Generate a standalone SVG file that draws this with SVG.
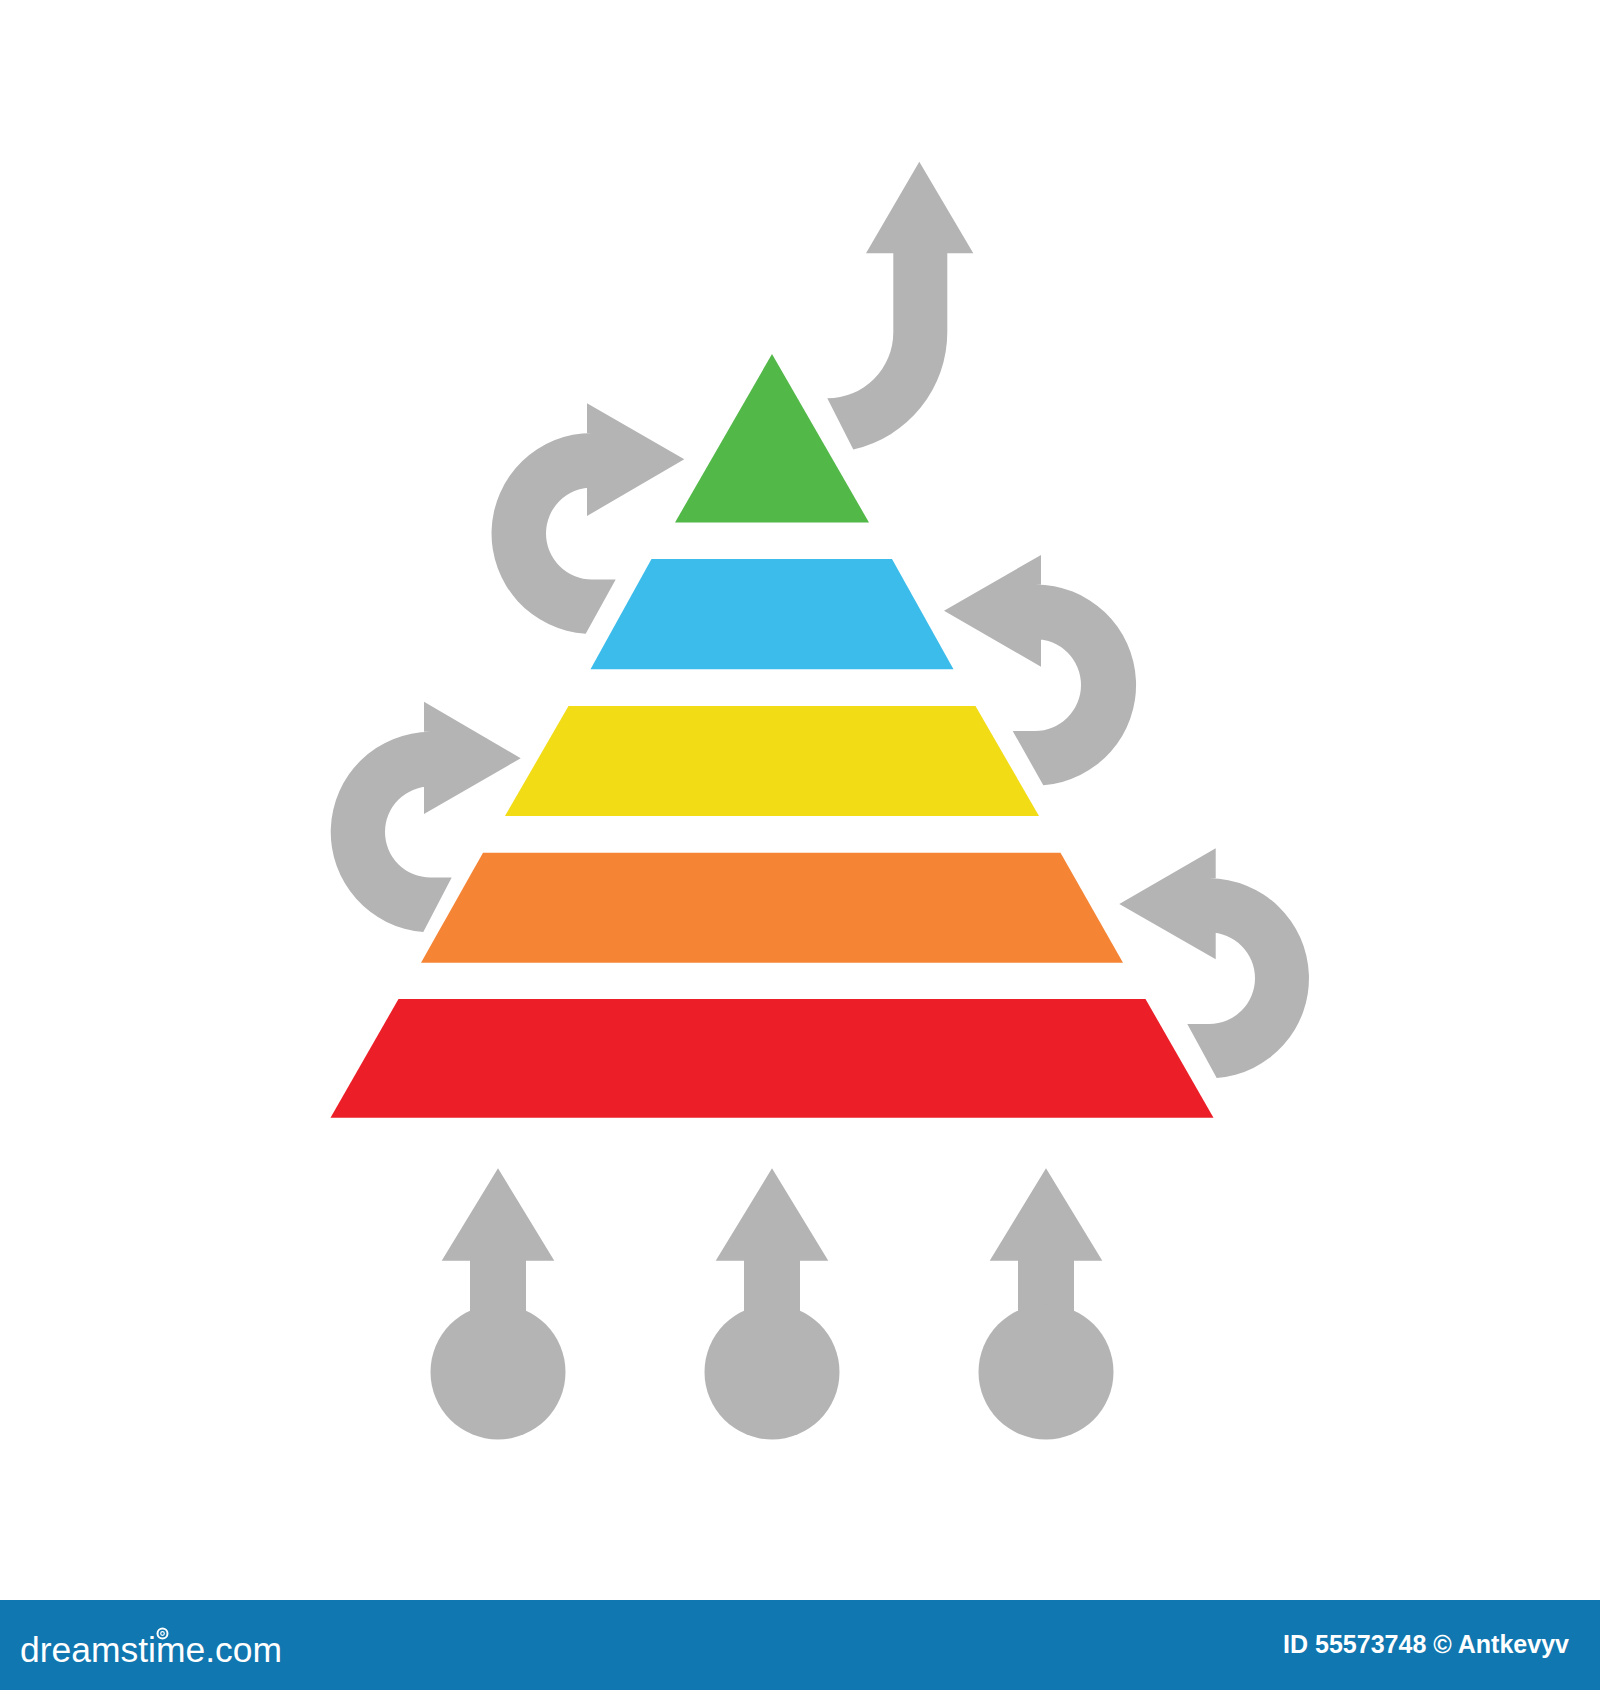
<svg xmlns="http://www.w3.org/2000/svg" width="1600" height="1690" viewBox="0 0 1600 1690">
  <style>
    .arrow { fill: #b4b4b4; }
    .banner-text { fill: #ffffff; font-family: "Liberation Sans", Arial, sans-serif; }
  </style>
  <rect x="0" y="0" width="1600" height="1690" fill="#ffffff"/>

  <!-- Pyramid layers -->
  <g id="layer-green"><polygon points="772,354 869,522.5 675,522.5" fill="#52b848"/></g>
  <g id="layer-blue"><polygon points="651.5,559 892,559 953.5,669.3 590.5,669.3" fill="#3bbceb"/></g>
  <g id="layer-yellow"><polygon points="568.5,706 975.5,706 1039,816 505,816" fill="#f1dc16"/></g>
  <g id="layer-orange"><polygon points="483,852.7 1060.5,852.7 1123,962.7 421,962.7" fill="#f58434"/></g>
  <g id="layer-red"><polygon points="398.5,999 1145.5,999 1213.5,1117.7 330.5,1117.7" fill="#ec1f28"/></g>

  <!-- Arrows -->
  <g id="connectors">
    <path id="arrow-top" class="arrow" d="M866,253.3 L919.3,161.7 L973.3,253.3 L947.3,253.3 L947.3,332.3 A120,120 0 0 1 853.3,449.4 L827.3,398.3 A66,66 0 0 0 893.3,332.3 L893.3,253.3 Z"/>
    <path id="arrow-left-upper" class="arrow" d="M587,403.3 L684.3,459.3 L587,516 L587,487.5 L592,487.5 A46,46 0 0 0 592,579.5 L615.7,579.5 L585.7,633.8 A100.5,100.5 0 0 1 592,433 L587,433 Z"/>
    <path id="arrow-right-upper" class="arrow" d="M1041,555 L944,610.7 L1041,666.7 L1041,639 L1035,639 A46,46 0 0 1 1035,731 L1012.7,731 L1043.3,785.2 A100.5,100.5 0 0 0 1035,584.5 L1041,584.5 Z"/>
    <path id="arrow-left-lower" class="arrow" d="M424,701.7 L520.7,758.3 L424,814 L424,786.5 L430.5,786.5 A45.5,45.5 0 0 0 430.5,877.5 L451.7,877.5 L423.3,932 A100.3,100.3 0 0 1 430.5,731.7 L424,731.7 Z"/>
    <path id="arrow-right-lower" class="arrow" d="M1215.7,848.3 L1119.3,904 L1215.7,959.3 L1215.7,932.6 L1209.3,932.6 A45.7,45.7 0 0 1 1209.3,1024 L1187.3,1024 L1216.7,1078 A100,100 0 0 0 1209.3,878.3 L1215.7,878.3 Z"/>
  </g>

  <!-- Bottom input arrows -->
  <g id="input-1" class="arrow">
    <polygon points="498,1168.3 554.3,1260.7 526,1260.7 526,1330 470,1330 470,1260.7 441.7,1260.7"/>
    <circle cx="498" cy="1372" r="67.5"/>
  </g>
  <g id="input-2" class="arrow">
    <polygon points="772,1168.3 828.3,1260.7 800,1260.7 800,1330 744,1330 744,1260.7 715.7,1260.7"/>
    <circle cx="772" cy="1372" r="67.5"/>
  </g>
  <g id="input-3" class="arrow">
    <polygon points="1046,1168.3 1102.3,1260.7 1074,1260.7 1074,1330 1018,1330 1018,1260.7 989.7,1260.7"/>
    <circle cx="1046" cy="1372" r="67.5"/>
  </g>

  <!-- Banner -->
  <g id="banner">
    <rect x="0" y="1600" width="1600" height="90" fill="#1077b0"/>
    <text class="banner-text" x="20" y="1662" font-size="35" textLength="262" lengthAdjust="spacingAndGlyphs">dreamstime.com</text>
    <circle cx="162.5" cy="1633.5" r="5" fill="none" stroke="#ffffff" stroke-width="2"/>
    <circle cx="162.5" cy="1633.5" r="1.8" fill="none" stroke="#ffffff" stroke-width="1.2"/>
    <text class="banner-text" x="1283" y="1653.3" font-size="25" font-weight="bold" textLength="286" lengthAdjust="spacingAndGlyphs">ID 55573748 © Antkevyv</text>
  </g>
</svg>
